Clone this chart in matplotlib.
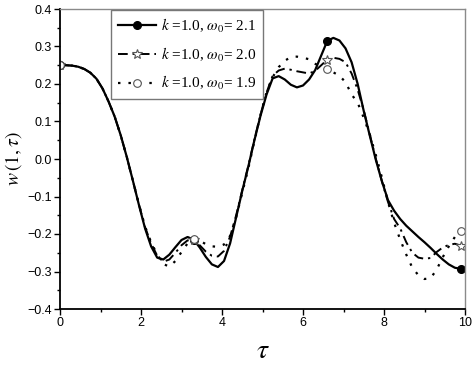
import matplotlib
matplotlib.use("Agg")
import matplotlib.pyplot as plt
import numpy as np
from matplotlib.ticker import MultipleLocator, FuncFormatter

plt.rcParams["font.family"] = ["Liberation Sans", "DejaVu Sans"]
plt.rcParams["mathtext.fontset"] = "stix"

# tau grid, step 0.15 from 0 to 9.9
tau = np.round(np.arange(67) * 0.15, 2)

w_21 = [0.250, 0.250, 0.249, 0.246, 0.240, 0.230, 0.214, 0.188, 0.153, 0.113,
        0.063, 0.005, -0.058, -0.123, -0.185, -0.233, -0.263, -0.268, -0.255, -0.235,
        -0.216, -0.208, -0.215, -0.236, -0.261, -0.281, -0.288, -0.272, -0.225, -0.155,
        -0.085, -0.020, 0.050, 0.115, 0.172, 0.215, 0.221, 0.212, 0.198, 0.191,
        0.196, 0.212, 0.237, 0.276, 0.315, 0.323, 0.316, 0.295, 0.258, 0.200,
        0.128, 0.062, -0.003, -0.060, -0.110, -0.138, -0.160, -0.178, -0.193, -0.208,
        -0.222, -0.237, -0.253, -0.268, -0.281, -0.290, -0.293]

w_20 = [0.250, 0.250, 0.249, 0.246, 0.240, 0.230, 0.214, 0.188, 0.153, 0.113,
        0.063, 0.005, -0.058, -0.122, -0.182, -0.225, -0.258, -0.274, -0.268, -0.250,
        -0.230, -0.217, -0.217, -0.230, -0.247, -0.258, -0.260, -0.245, -0.207, -0.150,
        -0.083, -0.018, 0.052, 0.118, 0.177, 0.222, 0.236, 0.241, 0.238, 0.234,
        0.231, 0.228, 0.235, 0.250, 0.265, 0.270, 0.267, 0.258, 0.228, 0.185,
        0.130, 0.065, 0.000, -0.060, -0.115, -0.160, -0.185, -0.222, -0.250, -0.263,
        -0.266, -0.264, -0.248, -0.236, -0.229, -0.226, -0.231]

w_19 = [0.250, 0.250, 0.249, 0.246, 0.240, 0.230, 0.214, 0.188, 0.153, 0.113,
        0.063, 0.005, -0.058, -0.121, -0.180, -0.222, -0.255, -0.280, -0.287, -0.272,
        -0.248, -0.225, -0.213, -0.218, -0.227, -0.233, -0.234, -0.228, -0.205, -0.155,
        -0.090, -0.025, 0.048, 0.118, 0.178, 0.218, 0.245, 0.262, 0.272, 0.273,
        0.270, 0.266, 0.254, 0.245, 0.239, 0.231, 0.222, 0.205, 0.172, 0.150,
        0.110, 0.065, 0.010, -0.050, -0.115, -0.170, -0.215, -0.255, -0.290, -0.310,
        -0.320, -0.318, -0.295, -0.262, -0.233, -0.208, -0.192]

labels = [r"$k$ =1.0, $\omega_0$= 2.1",
          r"$k$ =1.0, $\omega_0$= 2.0",
          r"$k$ =1.0, $\omega_0$= 1.9"]

fig = plt.figure(figsize=(4.74, 3.68), dpi=100)
ax = fig.add_axes([60 / 474, 1 - 309 / 368, 405 / 474, 300 / 368])

mark_idx = [0, 22, 44, 66]
ax.plot(tau, w_21, color="black", lw=1.6, marker="o", ms=5.5,
        mfc="black", mec="black", markevery=mark_idx, label=labels[0])
ax.plot(tau, w_20, color="black", lw=1.4, ls=(0, (5, 2.5, 1.2, 2.5)),
        marker="*", ms=7, mfc="white", mec="#555555", mew=0.8,
        markevery=mark_idx, label=labels[1])
ax.plot(tau, w_19, color="black", lw=1.6, ls=(0, (1.1, 3.6)),
        marker="o", ms=5.5, mfc="white", mec="#555555", mew=0.8,
        markevery=mark_idx, label=labels[2])

ax.set_xlim(0, 10)
ax.set_ylim(-0.4, 0.4)
ax.xaxis.set_major_locator(MultipleLocator(2))
ax.xaxis.set_minor_locator(MultipleLocator(1))
ax.yaxis.set_major_locator(MultipleLocator(0.1))
ax.yaxis.set_minor_locator(MultipleLocator(0.05))
ax.yaxis.set_major_formatter(FuncFormatter(lambda v, p: f"{v:.1f}".replace("-", "\u2212")))
ax.tick_params(which="both", direction="out", top=False, right=False,
               labelsize=9, width=1, color="black", pad=2)
ax.tick_params(which="major", length=4)
ax.tick_params(which="minor", length=2.5)

for side in ["left", "bottom"]:
    ax.spines[side].set_linewidth(1.3)
    ax.spines[side].set_color("black")
for side in ["top", "right"]:
    ax.spines[side].set_linewidth(1.0)
    ax.spines[side].set_color("#8a8a8a")

ax.set_xlabel(r"$\tau$", fontsize=20, labelpad=6)
ax.set_ylabel(r"$w\,(1,\tau)$", fontsize=14)
ax.yaxis.set_label_coords(-0.088, 0.5)

leg = ax.legend(loc="upper left", bbox_to_anchor=(0.126, 0.997),
                borderaxespad=0, fancybox=False, edgecolor="#777777",
                framealpha=1, handlelength=2.5, handletextpad=0.3,
                labelspacing=0.7, borderpad=0.45,
                prop={"family": "Liberation Serif", "size": 11})
leg.get_frame().set_linewidth(1.0)

fig.savefig("out.png", dpi=100)
